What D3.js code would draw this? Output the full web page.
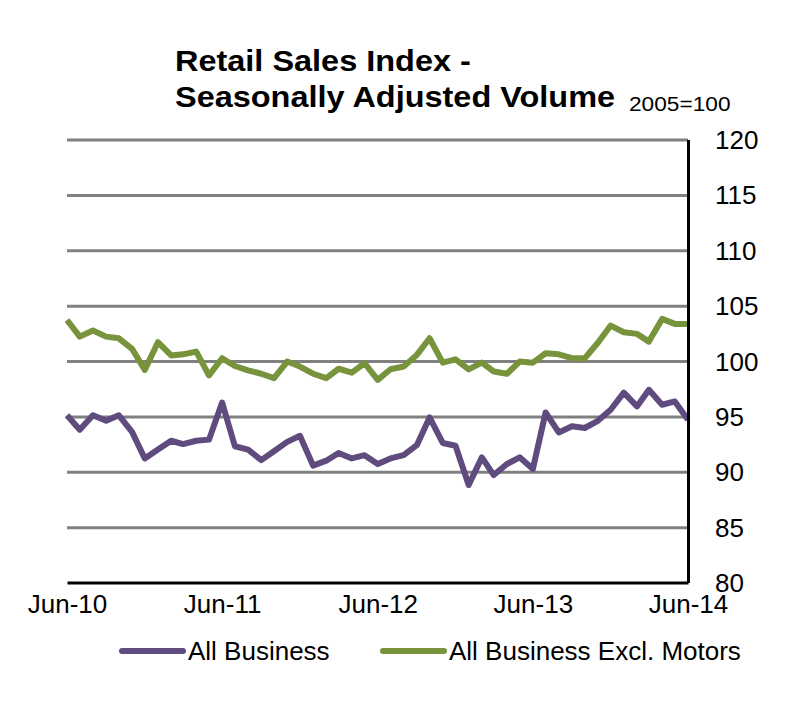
<!DOCTYPE html>
<html>
<head>
<meta charset="utf-8">
<script src="https://cdn.jsdelivr.net/npm/d3@7"></script>
<style>
  body { margin: 0; background: #fff; }
  text { font-family: "Liberation Sans", Arial, sans-serif; fill: #000; }
</style>
</head>
<body>
<div id="chart"></div>
<script>
// monthly categories, Jun-10 .. Jun-14
var months = d3.timeMonth.range(new Date(2010, 5, 1), new Date(2014, 6, 1));
var tickDates = [new Date(2010, 5, 1), new Date(2011, 5, 1), new Date(2012, 5, 1), new Date(2013, 5, 1), new Date(2014, 5, 1)];
var tickLabels = ["Jun-10", "Jun-11", "Jun-12", "Jun-13", "Jun-14"];
var yTicks = [80, 85, 90, 95, 100, 105, 110, 115, 120];

var allBusiness = [
    95.1, 93.8, 95.1, 94.6, 95.1, 93.6, 91.2, 92.0, 92.8, 92.5, 92.8, 92.9,
    96.25, 92.3, 92.0, 91.05, 91.85, 92.7, 93.25, 90.55, 91.0, 91.7, 91.2, 91.5,
    90.7, 91.2, 91.5, 92.4, 94.9, 92.6, 92.35, 88.8, 91.3, 89.7, 90.7, 91.3,
    90.25, 95.35, 93.55, 94.1, 93.95, 94.6, 95.6, 97.15, 95.9, 97.4, 96.05, 96.35,
    94.7
];
var exclMotors = [
    103.7, 102.2, 102.75, 102.2, 102.05, 101.1, 99.2, 101.7, 100.5, 100.6, 100.85, 98.7,
    100.25, 99.55, 99.15, 98.85, 98.45, 99.95, 99.5, 98.85, 98.45, 99.3, 98.95, 99.8,
    98.3, 99.25, 99.5, 100.55, 102.05, 99.85, 100.15, 99.25, 99.85, 99.05, 98.85, 99.95,
    99.85, 100.7, 100.6, 100.25, 100.25, 101.65, 103.2, 102.6, 102.45, 101.75, 103.8, 103.35,
    103.35
];

var seriesNames = ["All Business", "All Business Excl. Motors"];
var seriesColors = ["#5f4b7e", "#77933c"];

var width = 793;
var height = 701;
var plotLeft = 67, plotRight = 688, plotTop = 139.5, plotBottom = 582.5;

var svg = d3.select("#chart").append("svg")
    .attr("width", width).attr("height", height);

var x = d3.scaleTime()
    .domain([months[0], months[months.length - 1]])
    .range([plotLeft, plotRight]);
var y = d3.scaleLinear()
    .domain([80, 120])
    .range([plotBottom, plotTop]);

// gridlines
var grid = svg.append("g")
    .attr("transform", "translate(" + plotRight + ",0)")
    .call(d3.axisRight(y).tickValues(yTicks.slice(1)).tickSize(-(plotRight - plotLeft)).tickFormat(""));
grid.select(".domain").remove();
grid.selectAll("line").attr("stroke", "#808080").attr("stroke-width", 3);

// title (reference glyphs are a bit wider than Arial, so stretch a little)
svg.append("text")
    .attr("transform", "translate(175,71) scale(1.12,1)")
    .style("font-size", "29px").style("font-weight", "bold")
    .text("Retail Sales Index -");
svg.append("text")
    .attr("transform", "translate(175,107) scale(1.12,1)")
    .style("font-size", "29px").style("font-weight", "bold")
    .text("Seasonally Adjusted Volume");
svg.append("text")
    .attr("transform", "translate(629,111) scale(1.08,1)")
    .style("font-size", "21px")
    .text("2005=100");

// lines
var line = d3.line()
    .x(function (d, i) { return x(months[i]); })
    .y(function (d) { return y(d); });

[allBusiness, exclMotors].forEach(function (s, k) {
    svg.append("path")
        .datum(s)
        .attr("d", line)
        .attr("fill", "none")
        .attr("stroke", seriesColors[k])
        .attr("stroke-width", 6)
        .attr("stroke-linejoin", "round");
});

// right axis
var yAxis = svg.append("g")
    .attr("transform", "translate(" + plotRight + ",0)")
    .call(d3.axisRight(y).tickValues(yTicks).tickSize(0).tickPadding(27));
yAxis.select(".domain").attr("stroke", "#000").attr("stroke-width", 3);
yAxis.selectAll("text").style("font-size", "26px").attr("dy", "0.35em");

// bottom axis
var xAxis = svg.append("g")
    .attr("transform", "translate(0," + plotBottom + ")")
    .call(d3.axisBottom(x).tickValues(tickDates).tickSize(0).tickPadding(12)
        .tickFormat(function (d, i) { return tickLabels[i]; }));
xAxis.select(".domain").attr("stroke", "#000").attr("stroke-width", 3);
xAxis.selectAll("text").style("font-size", "26px");

// legend
var legendX = [122, 383];
seriesNames.forEach(function (name, k) {
    svg.append("line")
        .attr("x1", legendX[k]).attr("x2", legendX[k] + 61)
        .attr("y1", 651).attr("y2", 651)
        .attr("stroke", seriesColors[k])
        .attr("stroke-width", 6)
        .attr("stroke-linecap", "round");
    svg.append("text")
        .attr("x", legendX[k] + 66).attr("y", 660)
        .style("font-size", "26px")
        .text(name);
});
</script>
</body>
</html>
